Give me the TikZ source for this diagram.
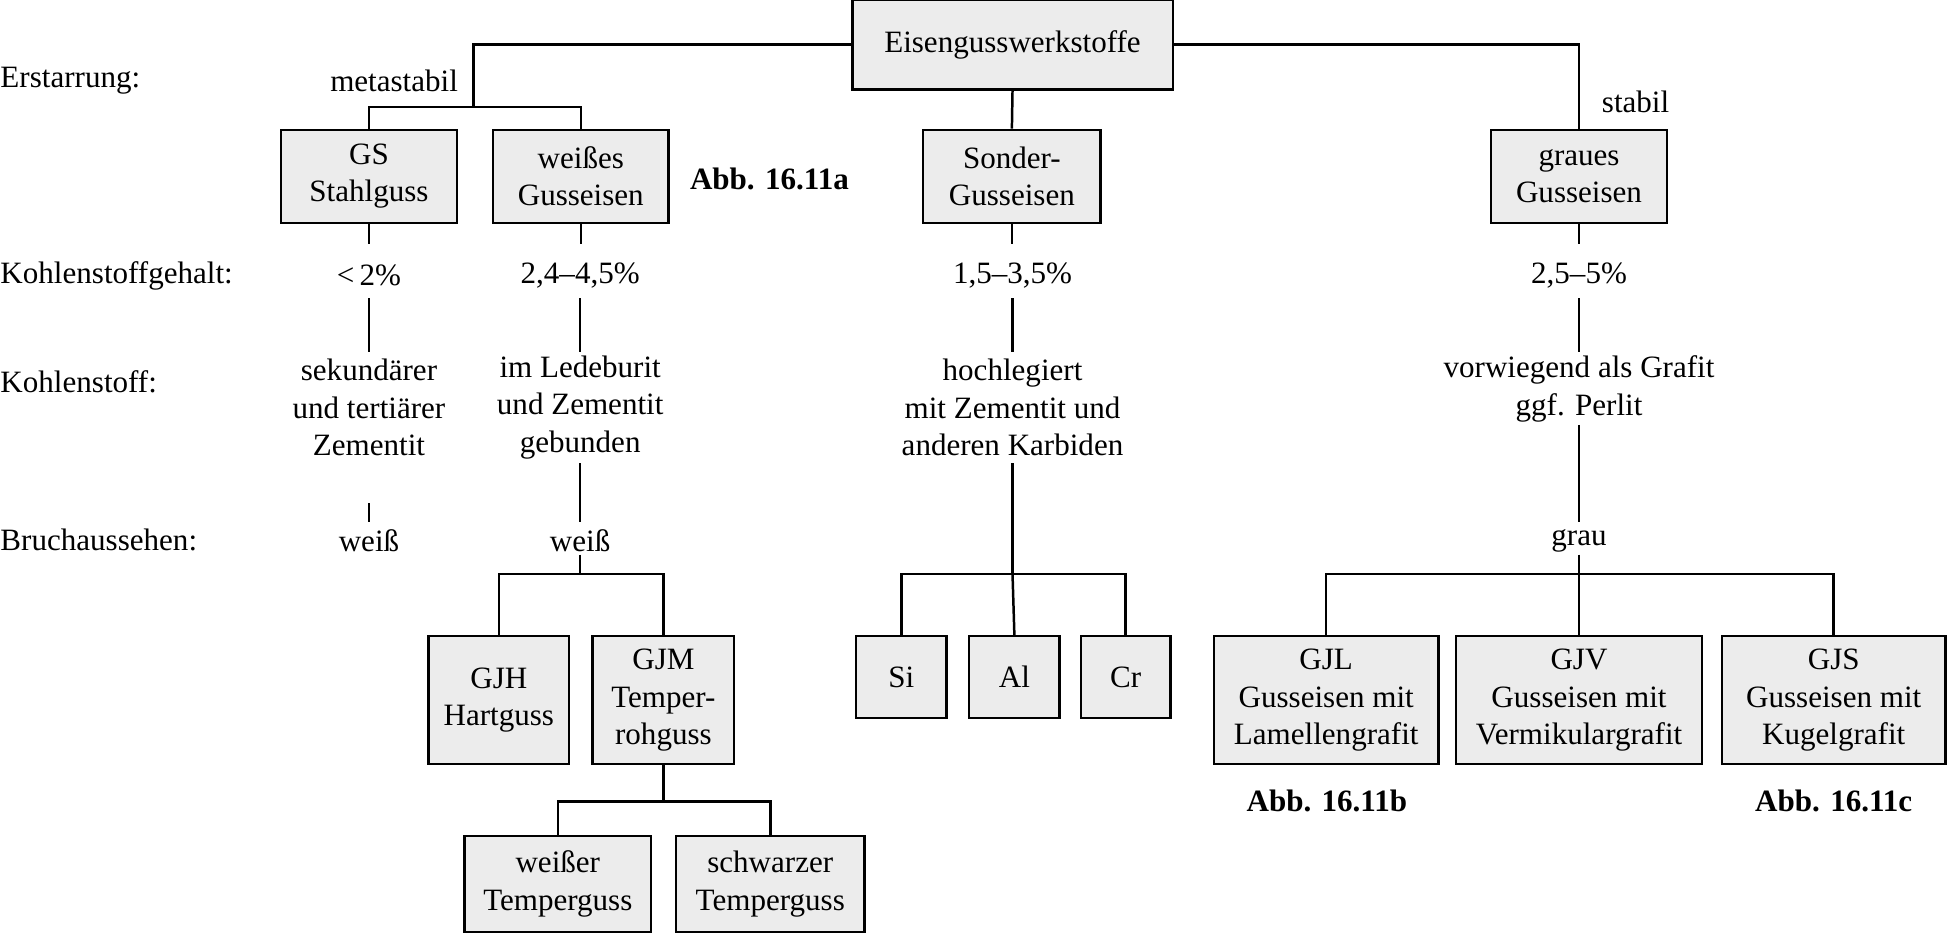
\documentclass[tikz,border=0pt]{standalone}
\usepackage{fontspec}
\setmainfont{Liberation Serif}
\begin{document}
\begin{tikzpicture}[x=0.5pt,y=-0.5pt,
  font=\fontsize{12.5}{15}\selectfont,
  box/.style={draw,line width=1pt,fill=gray!15,align=center,inner sep=0pt},
  lbl/.style={align=center,inner sep=1pt},
  row/.style={anchor=west,inner sep=0pt},
  ln/.style={line width=1pt}]
\useasboundingbox (0,0) rectangle (1568,751);
% boxes
\node[box,minimum width=129pt,minimum height=36pt] (top) at (815,36) {Eisengusswerkstoffe};
\node[box,minimum width=71pt,minimum height=37.5pt] (gs) at (297,142) {GS\\Stahlguss};
\node[box,minimum width=70.5pt,minimum height=37.5pt] (we) at (467.5,142) {weißes\\Gusseisen};
\node[box,minimum width=71.5pt,minimum height=37.5pt] (so) at (814.5,142) {Sonder-\\Gusseisen};
\node[box,minimum width=71pt,minimum height=37.5pt] (gr) at (1271,142) {graues\\Gusseisen};
\node[font=\fontsize{12.5}{15}\selectfont\bfseries,anchor=west,inner sep=0pt] (abba) at (555,144) {Abb. 16.11a};
% row labels
\node[row] (r1) at (0,65) {Erstarrung:};
\node[row] (r2) at (0,222) {Kohlenstoffgehalt:};
\node[row] (r3) at (0,307) {Kohlenstoff:};
\node[row] (r4) at (0,435) {Bruchaussehen:};
\node[lbl,anchor=east] (meta) at (371,65) {metastabil};
\node[lbl,anchor=east] (stab) at (1346,82) {stabil};
% carbon content
\node[lbl] (c1) at (297,222) {<\,2\%};
\node[lbl] (c2) at (467,222) {2,4–4,5\%};
\node[lbl] (c3) at (815,222) {1,5–3,5\%};
\node[lbl] (c4) at (1271,222) {2,5–5\%};
% kohlenstoff
\node[lbl] (k1) at (297,328) {sekundärer\\und tertiärer\\Zementit};
\node[lbl] (k2) at (467,328) {im Ledeburit\\und Zementit\\gebunden};
\node[lbl] (k3) at (815,328) {hochlegiert\\mit Zementit und\\anderen Karbiden};
\node[lbl] (k4) at (1271,313) {vorwiegend als Grafit\\ggf. Perlit};
% bruch
\node[lbl] (b1) at (297,435) {weiß};
\node[lbl] (b2) at (467,435) {weiß};
\node[lbl] (b4) at (1271,435) {grau};
% lower boxes
\node[box,minimum width=56.5pt,minimum height=51.5pt] (gjh) at (401.5,563.5) {GJH\\Hartguss};
\node[box,minimum width=57pt,minimum height=51.5pt] (gjm) at (534,563.5) {GJM\\Temper-\\rohguss};
\node[box,minimum width=75pt,minimum height=38.5pt] (wt) at (449,711.5) {weißer\\Temperguss};
\node[box,minimum width=76pt,minimum height=38.5pt] (st) at (620,711.5) {schwarzer\\Temperguss};
\node[box,minimum width=36.5pt,minimum height=33pt] (si) at (725.5,545) {Si};
\node[box,minimum width=36.5pt,minimum height=33pt] (al) at (816.5,545) {Al};
\node[box,minimum width=36pt,minimum height=33pt] (cr) at (906,545) {Cr};
\node[box,minimum width=90.5pt,minimum height=51.5pt] (gjl) at (1067.5,563.5) {GJL\\Gusseisen mit\\Lamellengrafit};
\node[box,minimum width=99pt,minimum height=51.5pt] (gjv) at (1271,563.5) {GJV\\Gusseisen mit\\Vermikulargrafit};
\node[box,minimum width=90pt,minimum height=51.5pt] (gjs) at (1476,563.5) {GJS\\Gusseisen mit\\Kugelgrafit};
\node[font=\fontsize{12.5}{15}\selectfont\bfseries,inner sep=0pt] (abbb) at (1068,645) {Abb. 16.11b};
\node[font=\fontsize{12.5}{15}\selectfont\bfseries,inner sep=0pt] (abbc) at (1476,645) {Abb. 16.11c};
% coordinates
\coordinate (j1) at (381,86);
\coordinate (j2) at (467,462);
\coordinate (j3) at (815,462);
\coordinate (j4) at (1271,462);
\coordinate (j5) at (534,645);
% connectors
\draw[ln] (top.west) -| (j1);
\draw[ln] (gs.north) |- (j1) -| (we.north);
\draw[ln] (top.east) -| (gr.north);
\draw[ln] (top.south) -- (so.north);
\draw[ln] (gs.south) -- ([yshift=-8pt]gs.south);
\draw[ln] (we.south) -- ([yshift=-8pt]we.south);
\draw[ln] (so.south) -- ([yshift=-8pt]so.south);
\draw[ln] (gr.south) -- ([yshift=-8pt]gr.south);
\draw[ln] (297,240) -- (297,283);
\draw[ln] (467,240) -- (467,283);
\draw[ln] (815,240) -- (815,283);
\draw[ln] (1271,240) -- (1271,283);
\draw[ln] (297,405) -- (297,420);
\draw[ln] (467,373) -- (467,420);
\draw[ln] (815,373) -- (j3);
\draw[ln] (1271,342) -- (1271,420);
\draw[ln] (b2.south) -- (j2);
\draw[ln] (b4.south) -- (j4);
\draw[ln] (gjh.north) |- (j2) -| (gjm.north);
\draw[ln] (si.north) |- (j3) -| (cr.north);
\draw[ln] (j3) -- (al.north);
\draw[ln] (gjl.north) |- (j4) -| (gjs.north);
\draw[ln] (j4) -- (gjv.north);
\draw[ln] (gjm.south) -- (j5);
\draw[ln] (wt.north) |- (j5) -| (st.north);
\end{tikzpicture}
\end{document}
